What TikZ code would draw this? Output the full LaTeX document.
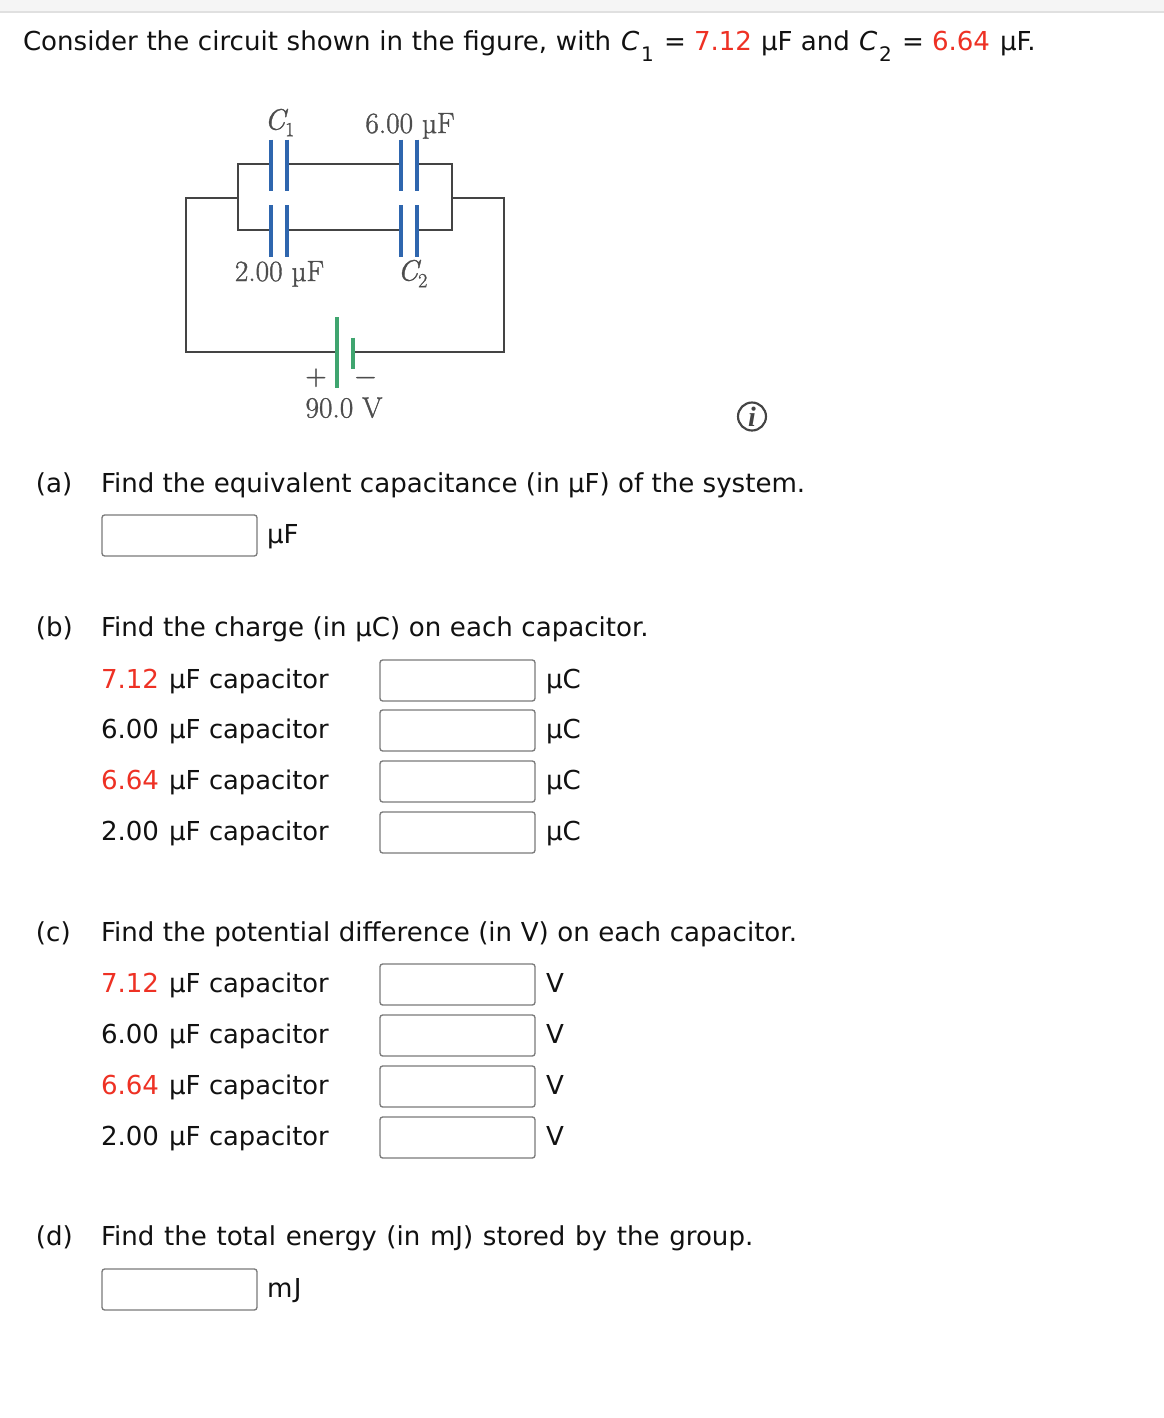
\documentclass[tikz,border=0pt]{standalone}
\usepackage{fontspec}
\newfontfamily\uisans{DejaVu Sans}
\newfontfamily\figfont{Latin Modern Roman}[FakeBold=1.2]
\newfontfamily\iconfont{Liberation Serif}
\definecolor{wire}{HTML}{444444}
\definecolor{plate}{HTML}{2F66AE}
\definecolor{batt}{HTML}{3FA56F}
\definecolor{ink}{HTML}{111111}
\definecolor{hot}{HTML}{EE3124}
\definecolor{lab}{HTML}{4D4D4D}
\definecolor{boxline}{HTML}{7A7A7A}
\newcommand{\tsize}{\fontsize{19.56}{24}\selectfont}
\newcommand{\figsub}[2]{\raisebox{-#1}{\fontsize{15}{15}\selectfont #2}}
\newcommand{\wsp}[2]{{\spaceskip=#1\relax #2}}
\tikzset{
  txt/.style={anchor=base west,inner sep=0pt,outer sep=0pt,text=ink,font=\uisans\tsize},
  red/.style={txt,text=hot},
  sub/.style={txt,font=\uisans\fontsize{15}{18}\selectfont},
  captxt/.style={txt,font=\uisans\fontsize{19.3}{24}\selectfont},
  fig/.style={anchor=base,inner sep=0pt,outer sep=0pt,text=lab,font=\figfont\fontsize{22}{24}\selectfont},
  answer/.style={draw=boxline,line width=1pt,rounded corners=2pt,fill=white},
  w/.style={draw=wire,line width=1.6pt,line cap=rect},
  pl/.style={draw=plate,line width=2.6pt},
  bt/.style={draw=batt,line width=2.6pt}
}
\begin{document}
\begin{tikzpicture}[x=0.75pt,y=-0.75pt]
\useasboundingbox (0,0) rectangle (1164,1418);
\fill[white] (0,0) rectangle (1164,1418);
\fill[black!4] (0,0) rectangle (1164,11);
\draw[black!12,line width=1.2pt] (0,12) -- (1164,12);
% header
\node[txt] (h1) at (23,50.5) {\wsp{6.5pt}{Consider the circuit shown in the figure, with}};
\node[txt] (h2) at (621,50.5) {\itshape C};
\node[sub] (h3) at (641,61) {1};
\node[txt] (h4) at (664,50.5) {=};
\node[red] (h5) at (694,50.5) {7.12};
\node[txt] (h6) at (761,50.5) {µF and};
\node[txt] (h7) at (859,50.5) {\itshape C};
\node[sub] (h8) at (879,61) {2};
\node[txt] (h9) at (902,50.5) {=};
\node[red] (h10) at (932,50.5) {6.64};
\node[txt] (h11) at (1000,50.5) {µF.};
% circuit points
\coordinate (ol) at (186,198);
\coordinate (olb) at (186,352);
\coordinate (or) at (504,198);
\coordinate (orb) at (504,352);
\coordinate (il) at (238,198);
\coordinate (ir) at (452,198);
\coordinate (ilt) at (238,164);
\coordinate (ilb) at (238,230);
\coordinate (irt) at (452,164);
\coordinate (irb) at (452,230);
\coordinate (a1t) at (271,139.5); \coordinate (a1b) at (271,190.5);
\coordinate (a2t) at (287,139.5); \coordinate (a2b) at (287,190.5);
\coordinate (b1t) at (401,139.5); \coordinate (b1b) at (401,190.5);
\coordinate (b2t) at (417,139.5); \coordinate (b2b) at (417,190.5);
\coordinate (c1t) at (271,205); \coordinate (c1b) at (271,256.5);
\coordinate (c2t) at (287,205); \coordinate (c2b) at (287,256.5);
\coordinate (d1t) at (401,205); \coordinate (d1b) at (401,256.5);
\coordinate (d2t) at (417,205); \coordinate (d2b) at (417,256.5);
\coordinate (e1t) at (337,317); \coordinate (e1b) at (337,388);
\coordinate (e2t) at (353,337.5); \coordinate (e2b) at (353,368.5);
% wires
\draw[w] (il) -- (ol) -- (olb) -- (337,352);
\draw[w] (ir) -- (or) -- (orb) -- (353,352);
\draw[w] (271,164) -- (ilt) -- (ilb) -- (271,230);
\draw[w] (417,164) -- (irt) -- (irb) -- (417,230);
\draw[w] (287,164) -- (401,164);
\draw[w] (287,230) -- (401,230);
% plates
\foreach \p in {a1,a2,b1,b2,c1,c2,d1,d2} \draw[pl] (\p t) -- (\p b);
\draw[bt] (e1t) -- (e1b);
\draw[bt] (e2t) -- (e2b);
% figure labels
\node[fig] (l1) at (279.5,129.5) {{\itshape C}\figsub{5pt}{1}};
\node[fig] (l2) at (410,133) {6.00 µF};
\node[fig] (l3) at (279.5,281) {2.00 µF};
\node[fig] (l4) at (412.5,280.5) {{\itshape C}\figsub{5pt}{2}};
\node[fig] (l5) at (316,385) {+};
\node[fig] (l6) at (365.5,385) {\textminus};
\node[fig] (l7) at (344,417.5) {90.0 V};
% info icon
\node[circle,draw=wire,line width=1.6pt,minimum size=21pt,inner sep=0pt,text=wire,font=\iconfont\bfseries\itshape\fontsize{21}{21}\selectfont] (info) at (752,416.5) {i};
% part a
\node[txt] (pa) at (36,492.5) {(a)};
\node[txt] (qa) at (101,492.5) {Find the equivalent capacitance (in µF) of the system.};
\draw[answer] (102,515) rectangle (257,556);
\node[txt] (ua) at (267,543.5) {µF};
% part b
\node[txt] (pb) at (36,636.5) {(b)};
\node[txt] (qb) at (101,636.5) {\wsp{6.45pt}{Find the charge (in µC) on each capacitor.}};
\node[red] (b1) at (101,688.5) {7.12}; \node[txt] (b1x) at (169,688.5) {µF}; \node[captxt] (b1y) at (209,688.5) {capacitor};
\node[txt] (b2) at (101,738.5) {6.00}; \node[txt] (b2x) at (169,738.5) {µF}; \node[captxt] (b2y) at (209,738.5) {capacitor};
\node[red] (b3) at (101,789.5) {6.64}; \node[txt] (b3x) at (169,789.5) {µF}; \node[captxt] (b3y) at (209,789.5) {capacitor};
\node[txt] (b4) at (101,840.5) {2.00}; \node[txt] (b4x) at (169,840.5) {µF}; \node[captxt] (b4y) at (209,840.5) {capacitor};
\draw[answer] (380,660) rectangle (535,701);
\draw[answer] (380,710) rectangle (535,751);
\draw[answer] (380,761) rectangle (535,802);
\draw[answer] (380,812) rectangle (535,853);
\node[txt] (ub1) at (546,688.5) {µC};
\node[txt] (ub2) at (546,738.5) {µC};
\node[txt] (ub3) at (546,789.5) {µC};
\node[txt] (ub4) at (546,840.5) {µC};
% part c
\node[txt] (pc) at (36,941.5) {(c)};
\node[txt] (qc) at (101,941.5) {\wsp{6.4pt}{Find the potential difference (in V) on each capacitor.}};
\node[red] (c1) at (101,992.5) {7.12}; \node[txt] (c1x) at (169,992.5) {µF}; \node[captxt] (c1y) at (209,992.5) {capacitor};
\node[txt] (c2) at (101,1043.5) {6.00}; \node[txt] (c2x) at (169,1043.5) {µF}; \node[captxt] (c2y) at (209,1043.5) {capacitor};
\node[red] (c3) at (101,1094.5) {6.64}; \node[txt] (c3x) at (169,1094.5) {µF}; \node[captxt] (c3y) at (209,1094.5) {capacitor};
\node[txt] (c4) at (101,1145.5) {2.00}; \node[txt] (c4x) at (169,1145.5) {µF}; \node[captxt] (c4y) at (209,1145.5) {capacitor};
\draw[answer] (380,964) rectangle (535,1005);
\draw[answer] (380,1015) rectangle (535,1056);
\draw[answer] (380,1066) rectangle (535,1107);
\draw[answer] (380,1117) rectangle (535,1158);
\node[txt] (uc1) at (546,992.5) {V};
\node[txt] (uc2) at (546,1043.5) {V};
\node[txt] (uc3) at (546,1094.5) {V};
\node[txt] (uc4) at (546,1145.5) {V};
% part d
\node[txt] (pd) at (36,1245.5) {(d)};
\node[txt] (qd) at (101,1245.5) {\wsp{7.25pt}{Find the total energy (in mJ) stored by the group.}};
\draw[answer] (102,1269) rectangle (257,1310);
\node[txt] (ud) at (267,1297.5) {m\kern1.2pt J};
\end{tikzpicture}
\end{document}
